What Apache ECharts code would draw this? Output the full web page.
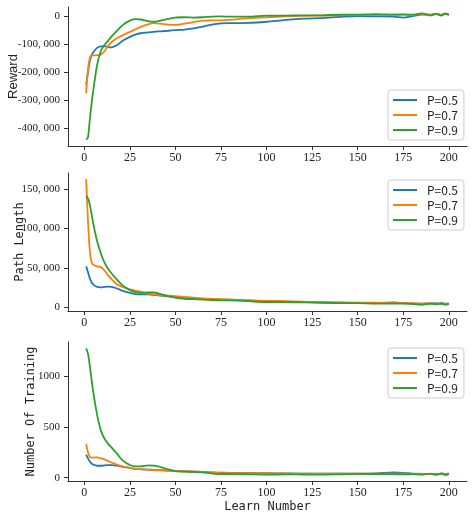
<!DOCTYPE html>
<html>
<head>
<meta charset="utf-8">
<script src="https://cdn.jsdelivr.net/npm/echarts@6/dist/echarts.min.js"></script>
<style>
  html, body { margin: 0; padding: 0; background: #fff; }
  #chart { width: 474px; height: 520px; }
</style>
</head>
<body>
<div id="chart"></div>
<script>
// learn number samples
const learnNumbers = [1,2,3,4,5,7,9,11,13,15,18,21,25,28,31,35,38,42,46,50,55,60,65,70,75,80,90,100,110,120,130,140,150,160,170,175,180,185,190,193,196,198,200];

const rewardP5 = [-245000,-200000,-160000,-140000,-128000,-113000,-108000,-107000,-110000,-111000,-103000,-88000,-74000,-66000,-61000,-58000,-56000,-54000,-52000,-50000,-48000,-44000,-37000,-30000,-26000,-25000,-24000,-20000,-14000,-9000,-7000,-3000,0,-1000,-2000,-5000,0,5000,5000,7000,3000,8000,5000];
const rewardP7 = [-275000,-190000,-150000,-140000,-140000,-139000,-137000,-125000,-106000,-92000,-78000,-68000,-56000,-47000,-38000,-29000,-25000,-27000,-30000,-31000,-27000,-21000,-16000,-15000,-15000,-13000,-7000,-4000,-1000,1000,2000,3000,4000,4000,5000,5000,4000,8000,4000,7000,5000,9000,6000];
const rewardP9 = [-440000,-432000,-370000,-310000,-260000,-175000,-125000,-103000,-88000,-72000,-52000,-32000,-16000,-11000,-12000,-18000,-20000,-16000,-10000,-5000,-4000,-5000,-4000,-2000,-1000,-2000,-2000,2000,2000,3000,3000,5000,5000,7000,5000,6000,5000,10000,2000,9000,2000,10000,4000];

const pathP5 = [52000,45000,37000,32000,29000,26000,25500,26000,26500,26000,24000,21000,18500,17000,16500,16500,16000,15000,14000,13000,12000,11500,11000,10500,10000,10000,9000,8000,7500,7000,6500,6000,5500,5500,6500,5500,5000,5000,5000,5500,4500,5000,5000];
const pathP7 = [162000,110000,72000,57000,54000,52000,51000,47000,41000,36000,29000,26000,23000,21500,20000,17500,16500,15500,15000,14500,13500,12500,11500,11000,10500,10000,9000,8500,8000,7500,7000,6500,6000,6000,5500,5500,5500,5000,5500,4500,5500,4500,5000];
const pathP9 = [141000,138000,130000,118000,105000,84000,69000,57000,49000,43000,35000,28000,22000,19500,18500,19000,19000,17000,14500,12500,11000,10500,10000,9500,9000,9000,8000,7000,7000,6500,6000,5500,5500,5000,5000,5000,4500,3500,5000,4000,5500,3500,5000];

const trainP5 = [226,190,160,140,128,118,118,121,123,124,118,108,96,88,84,80,78,74,70,66,62,60,58,52,50,48,48,45,42,40,40,40,40,42,52,48,40,38,38,36,40,38,40];
const trainP7 = [330,250,205,198,198,200,192,180,165,150,128,112,98,88,82,77,75,72,70,68,64,60,56,50,46,45,45,44,42,40,40,40,40,40,40,40,38,40,36,40,36,38,40];
const trainP9 = [1271,1220,1100,960,830,620,470,385,335,295,235,170,125,112,112,122,120,105,82,66,60,58,52,42,36,36,34,30,34,32,30,34,38,36,35,33,36,30,40,28,42,26,38];

const seriesNames = ['P=0.5', 'P=0.7', 'P=0.9'];
const colors = ['#1f77b4', '#ff7f0e', '#2ca02c'];
const xTicks = [0,25,50,75,100,125,150,175,200];
const rewardTicks = [-400000,-300000,-200000,-100000,0];
const pathTicks = [0,50000,100000,150000];
const trainTicks = [0,500,1000];

// thousands separator shown as ", " like the original figure
function fmt(v) {
  if (Math.abs(v) < 10000) return String(v);
  const s = String(Math.abs(v)).replace(/\B(?=(\d{3})+(?!\d))/g, ', ');
  return (v < 0 ? '-' : '') + s;
}

function pairs(ys) {
  return learnNumbers.map((x, i) => [x, ys[i]]);
}

const axisColor = '#333';
const grids = [
  { left: 68, right: 7, top: 7, height: 139, outerBoundsMode: 'none' },
  { left: 68, right: 7, top: 173, height: 138, outerBoundsMode: 'none' },
  { left: 68, right: 7, top: 342, height: 139, outerBoundsMode: 'none' }
];

const xAxes = grids.map((g, i) => ({
  type: 'value', gridIndex: i, min: -8.95, max: 209.95,
  name: i === 2 ? 'Learn Number' : '',
  nameLocation: 'middle', nameGap: 20, nameMoveOverlap: false,
  nameTextStyle: { fontFamily: 'DejaVu Sans Mono', fontSize: 12, color: '#222' },
  axisLine: { onZero: false, lineStyle: { color: axisColor, width: 1 } },
  axisTick: { customValues: xTicks, length: 4, lineStyle: { color: axisColor } },
  axisLabel: { customValues: xTicks, margin: 6, fontFamily: 'Liberation Serif', fontSize: 12, color: '#222' },
  splitLine: { show: false }
}));

const yDefs = [
  { min: -462500, max: 32500, ticks: rewardTicks, name: 'Reward', gap: 48, font: 'Liberation Sans', size: 13 },
  { min: -4400, max: 170000, ticks: pathTicks, name: 'Path Length', gap: 42, font: 'DejaVu Sans Mono', size: 12 },
  { min: -32, max: 1333, ticks: trainTicks, name: 'Number Of Training', gap: 31, font: 'DejaVu Sans Mono', size: 12 }
];

const yAxes = yDefs.map((d, i) => ({
  type: 'value', gridIndex: i, min: d.min, max: d.max,
  name: d.name, nameLocation: 'middle', nameGap: d.gap, nameRotate: 90, nameMoveOverlap: false,
  nameTextStyle: { fontFamily: d.font, fontSize: d.size, color: '#222' },
  axisLine: { show: true, onZero: false, lineStyle: { color: axisColor, width: 1 } },
  axisTick: { show: true, customValues: d.ticks, length: 4, lineStyle: { color: axisColor } },
  axisLabel: { customValues: d.ticks, margin: 8, fontFamily: 'Liberation Serif', fontSize: 11, color: '#222', formatter: fmt },
  splitLine: { show: false }
}));

const allData = [
  [rewardP5, rewardP7, rewardP9],
  [pathP5, pathP7, pathP9],
  [trainP5, trainP7, trainP9]
];

const series = [];
allData.forEach((group, gi) => {
  group.forEach((ys, si) => {
    series.push({
      type: 'line', name: seriesNames[si], xAxisIndex: gi, yAxisIndex: gi,
      data: pairs(ys), smooth: 0.3, symbol: 'none',
      lineStyle: { color: colors[si], width: 1.8 },
      itemStyle: { color: colors[si] },
      z: 2 + si
    });
  });
});

const legendTops = [90, 180, 348];
const legends = legendTops.map(t => ({
  orient: 'vertical', left: 388, top: t,
  data: seriesNames.map(n => ({ name: n, icon: 'rect' })),
  itemWidth: 24, itemHeight: 2, itemGap: 3,
  padding: [4, 6, 4, 5],
  borderColor: '#ccc', borderWidth: 1, borderRadius: 3,
  backgroundColor: 'rgba(255,255,255,0.8)',
  textStyle: { fontFamily: 'Noto Sans CJK SC', fontSize: 12, lineHeight: 12, color: '#222', padding: [0, 0, 0, 5] },
  selectedMode: false
}));

const chart = echarts.init(document.getElementById('chart'), null, { renderer: 'canvas' });
chart.setOption({
  backgroundColor: '#fff',
  animation: false,
  color: colors,
  grid: grids,
  xAxis: xAxes,
  yAxis: yAxes,
  legend: legends,
  series: series
});
</script>
</body>
</html>
